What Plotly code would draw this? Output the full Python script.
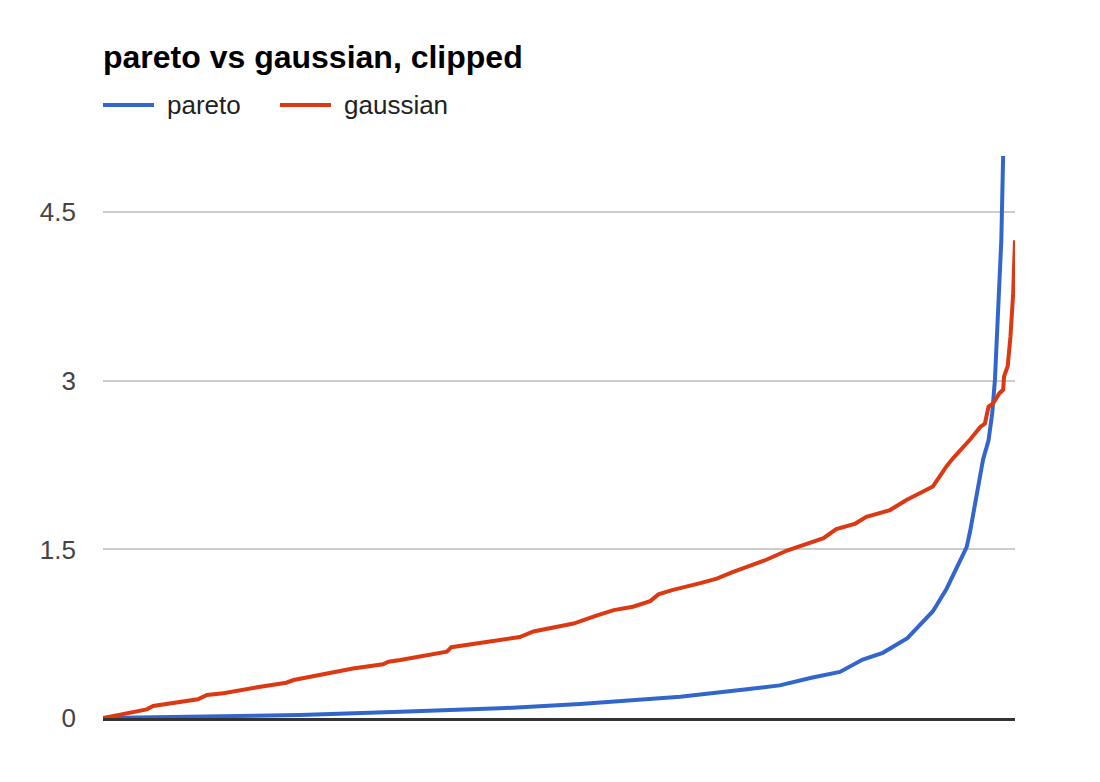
import plotly.graph_objects as go

# sample index (0..1000) and value
gauss_x = [0, 24, 48, 55, 81, 104, 114, 132, 169, 201, 209, 253, 267, 274, 307, 313,
           326, 377, 382, 457, 472, 516, 541, 560, 581, 600, 609, 625, 655, 673, 691,
           728, 750, 790, 804, 825, 837, 863, 881, 910, 925, 932, 951, 962, 967, 969,
           971, 976, 983, 987, 988, 992, 995, 998, 1000]
gauss_y = [0, 0.035, 0.077, 0.107, 0.136, 0.166, 0.205, 0.22, 0.273, 0.314, 0.338,
           0.41, 0.427, 0.44, 0.478, 0.50, 0.516, 0.59, 0.63, 0.72, 0.77, 0.84, 0.91,
           0.96, 0.99, 1.04, 1.10, 1.14, 1.20, 1.24, 1.30, 1.41, 1.49, 1.60, 1.68, 1.73,
           1.79, 1.85, 1.94, 2.06, 2.24, 2.31, 2.48, 2.59, 2.62, 2.68, 2.77, 2.80, 2.89,
           2.92, 3.04, 3.13, 3.39, 3.78, 4.25]

pareto_x = [0, 106, 216, 326, 435, 523, 633, 706, 742, 778, 808, 833, 855, 882, 910,
            925, 936, 947, 951, 956, 962, 965, 971, 975, 978, 981, 983, 985, 987, 990,
            1000]
pareto_y = [0, 0.012, 0.027, 0.056, 0.086, 0.125, 0.19, 0.255, 0.29, 0.36, 0.41, 0.52,
            0.58, 0.71, 0.95, 1.15, 1.33, 1.52, 1.67, 1.88, 2.15, 2.30, 2.47, 2.71, 3.01,
            3.54, 3.93, 4.25, 5.0, 6.5, 12.0]

y_ticks = [0, 1.5, 3, 4.5]
y_tick_text = ['0', '1.5', '3', '4.5']

BLUE = '#3366CC'
RED = '#DC3912'
FONT = 'Arial, Liberation Sans, sans-serif'

fig = go.Figure()
fig.add_trace(go.Scatter(x=pareto_x, y=pareto_y, mode='lines', name='pareto',
                         line=dict(color=BLUE, width=4), showlegend=False))
fig.add_trace(go.Scatter(x=gauss_x, y=gauss_y, mode='lines', name='gaussian',
                         line=dict(color=RED, width=4), showlegend=False))

# legend drawn by hand so the line samples are as long as the original
legend_y = (710 - 97) / 562
for x0, colour, label in [(0, BLUE, 'pareto'), (177 / 912, RED, 'gaussian')]:
    fig.add_shape(type='line', xref='paper', yref='paper',
                  x0=x0, x1=x0 + 51 / 912, y0=legend_y, y1=legend_y,
                  line=dict(color=colour, width=4))
    fig.add_annotation(xref='paper', yref='paper', x=x0 + 62 / 912, y=legend_y,
                       xanchor='left', yanchor='middle', showarrow=False,
                       text=label, font=dict(family=FONT, size=26, color='#222222'))

# page body adds an 8px offset, so the figure is 8px smaller in each direction
fig.update_layout(
    width=1092, height=774,
    margin=dict(l=95, r=85, t=148, b=64),
    paper_bgcolor='white', plot_bgcolor='white',
    title=dict(text='pareto vs gaussian, clipped', xref='container', yref='container',
               x=95 / 1092, xanchor='left', y=1 - 49 / 774, yanchor='middle',
               font=dict(family=FONT, size=32, color='#000000', weight='bold')),
    xaxis=dict(range=[0, 1000], showgrid=False, zeroline=False, showticklabels=False,
               showline=True, linecolor='#333333', linewidth=2.5, ticks=''),
    yaxis=dict(range=[0, 5], tickvals=y_ticks, ticktext=y_tick_text,
               showgrid=True, gridcolor='#cccccc', gridwidth=2, zeroline=False,
               showline=False, ticks='', ticklabelstandoff=26,
               tickfont=dict(family=FONT, size=26, color='#444444')),
)

fig.write_html('out.html')
